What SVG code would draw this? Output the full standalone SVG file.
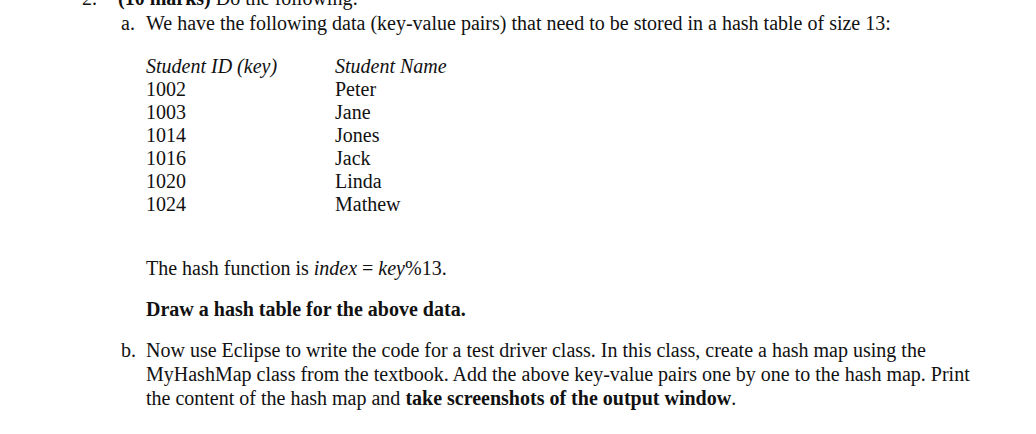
<svg xmlns="http://www.w3.org/2000/svg" width="1036" height="434" viewBox="0 0 1036 434">
<style>text{font-family:"Liberation Serif",serif;font-size:20px;fill:#111}.i{font-style:italic}.b{font-weight:bold}</style>
<rect width="1036" height="434" fill="#fff"/>
<text x="82" y="5">2.</text>
<text x="118" y="5"><tspan class="b">(10 marks)</tspan> Do the following:</text>
<text x="121" y="30">a.</text>
<text x="146" y="30">We have the following data (key-value pairs) that need to be stored in a hash table of size 13:</text>
<text x="146" y="73" class="i">Student ID (key)</text>
<text x="335" y="73" class="i">Student Name</text>
<text x="146" y="96">1002</text><text x="335" y="96">Peter</text>
<text x="146" y="119">1003</text><text x="335" y="119">Jane</text>
<text x="146" y="142">1014</text><text x="335" y="142">Jones</text>
<text x="146" y="165">1016</text><text x="335" y="165">Jack</text>
<text x="146" y="188">1020</text><text x="335" y="188">Linda</text>
<text x="146" y="211">1024</text><text x="335" y="211">Mathew</text>
<text x="146" y="275">The hash function is <tspan class="i">index</tspan> = <tspan class="i">key</tspan>%13.</text>
<text x="146" y="316" class="b">Draw a hash table for the above data.</text>
<text x="121" y="357">b.</text>
<text x="146" y="357">Now use Eclipse to write the code for a test driver class. In this class, create a hash map using the</text>
<text x="146" y="381">MyHashMap class from the textbook. Add the above key-value pairs one by one to the hash map. Print</text>
<text x="146" y="405">the content of the hash map and <tspan class="b">take screenshots of the output window</tspan>.</text>
</svg>
